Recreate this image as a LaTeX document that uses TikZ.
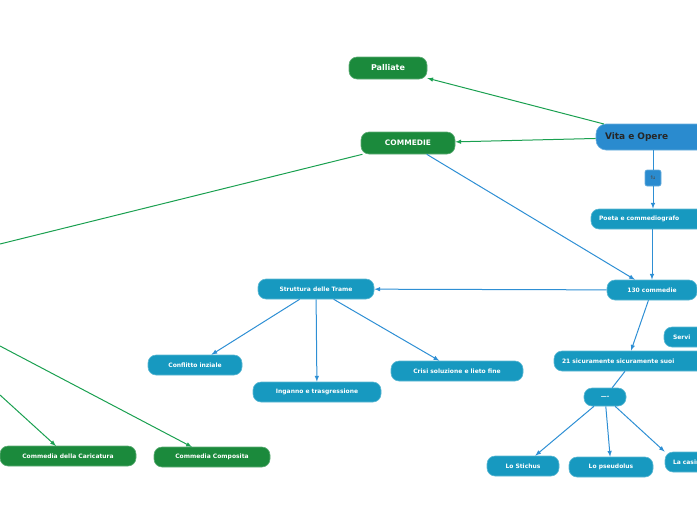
\documentclass[tikz,border=0pt]{standalone}
\usepackage{fontspec}
\setmainfont{DejaVu Sans}
\begin{document}
\begin{tikzpicture}[x=1pt,y=-1pt,
  box/.style={rounded corners=8pt,draw=#1!70!white,fill=#1,text=white,font=\bfseries\fontsize{6}{7}\selectfont,minimum height=20pt,inner sep=0pt,line width=0.6pt},
  g/.style={box=gnode},
  t/.style={box=tnode},
  ge/.style={draw=gedge,line width=1pt,-latex},
  be/.style={draw=bedge,line width=1pt,-latex}]
\definecolor{gnode}{HTML}{1B8A3C}
\definecolor{tnode}{HTML}{1799C0}
\definecolor{bnode}{HTML}{2A8BCF}
\definecolor{gedge}{HTML}{1AA050}
\definecolor{bedge}{HTML}{2E8FD4}
\useasboundingbox (0,0) rectangle (697,520);
\clip (0,0) rectangle (697,520);
\node[g,minimum width=78pt,minimum height=22pt,font=\bfseries\fontsize{8}{9}\selectfont] (pal) at (388,68) {Palliate};
\node[g,minimum width=94pt,minimum height=22pt,font=\bfseries\fontsize{7.5}{8}\selectfont] (com) at (408,143) {COMMEDIE};
\node[box=bnode,text=black!85,minimum width=122pt,minimum height=26pt,font=\bfseries\fontsize{9}{10}\selectfont,rounded corners=10pt,text width=104pt,align=left] (vita) at (657,137) {Vita e Opere};
\node[box=bnode,text=black!70,minimum width=16pt,minimum height=16pt,rounded corners=2pt,font=\fontsize{5}{6}\selectfont] (fu) at (653,178) {fu};
\node[t,minimum width=140pt,text width=124pt,align=left] (poeta) at (661,219) {Poeta e commediografo};
\node[t,minimum width=90pt] (c130) at (652,290) {130 commedie};
\node[t,minimum width=80pt,text width=62pt,align=left] (servi) at (704,337) {Servi};
\node[t,minimum width=180pt,text width=164pt,align=left] (s21) at (644,361) {21 sicuramente sicuramente suoi};
\node[t,minimum width=42pt,minimum height=18pt] (dash) at (605,397) {----};
\node[t,minimum width=72pt] (sti) at (523,466) {Lo Stichus};
\node[t,minimum width=84pt] (pse) at (611,467) {Lo pseudolus};
\node[t,minimum width=80pt,text width=64pt,align=left] (lac) at (705,462) {La casina};
\node[t,minimum width=116pt] (str) at (316,289) {Struttura delle Trame};
\node[t,minimum width=94pt] (con) at (195,365) {Conflitto inziale};
\node[t,minimum width=128pt] (ing) at (317,392) {Inganno e trasgressione};
\node[t,minimum width=132pt] (cri) at (457,371) {Crisi soluzione e lieto fine};
\node[g,minimum width=136pt] (car) at (68,456) {Commedia della Caricatura};
\node[g,minimum width=116pt] (cps) at (212,457) {Commedia Composita};
\coordinate (o1) at (0,244);
\coordinate (o2) at (0,346);
\coordinate (o3) at (0,395);
\coordinate (t2) at (192,447);
\coordinate (t3) at (56,446);
\coordinate (vp) at (604,124);
\draw[ge] (vp) -- (pal);
\draw[ge] (vita) -- (com);
\draw[draw=gedge,line width=1pt] (com) -- (o1);
\draw[ge] (o2) -- (t2);
\draw[ge] (o3) -- (t3);
\draw[be] (com) -- (c130);
\draw[draw=bedge,line width=1pt] (vita.south -| fu) -- (fu);
\draw[be] (fu) -- (fu |- poeta.north);
\draw[be] (poeta.south -| c130) -- (c130);
\draw[be] (c130) -- (str);
\draw[be] (c130) -- (s21.north -| 631,0);
\draw[draw=bedge,line width=1pt] (s21.south -| 625,0) -- (dash);
\draw[be] (dash) -- (sti);
\draw[be] (dash) -- (pse);
\draw[be] (dash) -- (lac.north west);
\draw[be] (str) -- (con);
\draw[be] (str) -- (ing);
\draw[be] (str) -- (cri);
\end{tikzpicture}
\end{document}
